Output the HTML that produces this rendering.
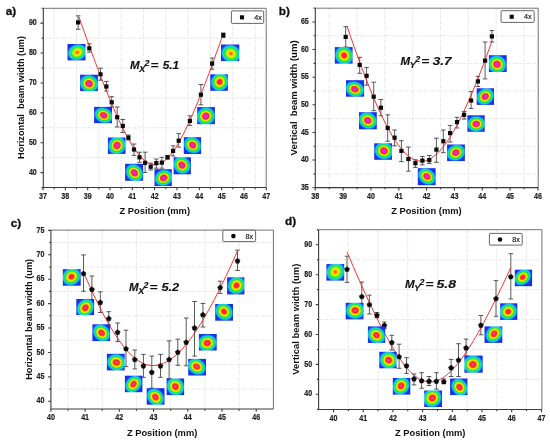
<!DOCTYPE html>
<html><head><meta charset="utf-8"><title>Beam width vs Z position</title>
<style>
html,body{margin:0;padding:0;background:#fff}
svg{display:block}
text{font-family:"Liberation Sans",Arial,sans-serif;fill:#1a1a1a}
.tk{font-size:8.9px;font-weight:bold;fill:#222;stroke:#222;stroke-width:0.2px}
.at{font-size:9.7px;font-weight:bold;fill:#111}
.pl{font-size:11.8px;font-weight:bold;fill:#111;stroke:#111;stroke-width:0.3px}
.lg{font-size:7.8px;fill:#111;stroke:#111;stroke-width:0.15px}
.m2{font-family:"Liberation Sans",Arial,sans-serif;font-style:italic;font-weight:bold;font-size:11.4px;fill:#111;stroke:#111;stroke-width:0.15px}
.sb{font-size:8.8px !important}
.sp{font-size:8.5px}
</style></head><body>
<svg width="550" height="443" viewBox="0 0 550 443">
<defs><radialGradient id="g1" gradientUnits="userSpaceOnUse" cx="0" cy="0" r="1" gradientTransform="translate(77.3 52.34) rotate(-18.55) scale(10.8 8.94)"><stop offset="0" stop-color="#f04030"/><stop offset="0.08" stop-color="#ff6010"/><stop offset="0.2" stop-color="#ffc000"/><stop offset="0.32" stop-color="#e8f000"/><stop offset="0.46" stop-color="#80f020"/><stop offset="0.6" stop-color="#20e050"/><stop offset="0.7" stop-color="#10e0b0"/><stop offset="0.77" stop-color="#10d0f0"/><stop offset="0.87" stop-color="#1a70f0"/><stop offset="0.96" stop-color="#1834ea"/><stop offset="1" stop-color="#1830e6"/></radialGradient>
<radialGradient id="g2" gradientUnits="userSpaceOnUse" cx="0" cy="0" r="1" gradientTransform="translate(89.11 83.61) rotate(23.81) scale(10.68 9.69)"><stop offset="0" stop-color="#dc30cc"/><stop offset="0.2" stop-color="#ea28b0"/><stop offset="0.3" stop-color="#ff2040"/><stop offset="0.36" stop-color="#ff8000"/><stop offset="0.42" stop-color="#f8e800"/><stop offset="0.5" stop-color="#a0f000"/><stop offset="0.6" stop-color="#20e040"/><stop offset="0.69" stop-color="#10e0a0"/><stop offset="0.76" stop-color="#10d0f0"/><stop offset="0.86" stop-color="#1a70f0"/><stop offset="0.96" stop-color="#1834ea"/><stop offset="1" stop-color="#1830e6"/></radialGradient>
<radialGradient id="g3" gradientUnits="userSpaceOnUse" cx="0" cy="0" r="1" gradientTransform="translate(103.68 115.35) rotate(23.81) scale(10.74 8.55)"><stop offset="0" stop-color="#dc30cc"/><stop offset="0.2" stop-color="#ea28b0"/><stop offset="0.3" stop-color="#ff2040"/><stop offset="0.36" stop-color="#ff8000"/><stop offset="0.42" stop-color="#f8e800"/><stop offset="0.5" stop-color="#a0f000"/><stop offset="0.6" stop-color="#20e040"/><stop offset="0.69" stop-color="#10e0a0"/><stop offset="0.76" stop-color="#10d0f0"/><stop offset="0.86" stop-color="#1a70f0"/><stop offset="0.96" stop-color="#1834ea"/><stop offset="1" stop-color="#1830e6"/></radialGradient>
<radialGradient id="g4" gradientUnits="userSpaceOnUse" cx="0" cy="0" r="1" gradientTransform="translate(117 145.45) rotate(-56.86) scale(10.56 9.82)"><stop offset="0" stop-color="#dc30cc"/><stop offset="0.2" stop-color="#ea28b0"/><stop offset="0.3" stop-color="#ff2040"/><stop offset="0.36" stop-color="#ff8000"/><stop offset="0.42" stop-color="#f8e800"/><stop offset="0.5" stop-color="#a0f000"/><stop offset="0.6" stop-color="#20e040"/><stop offset="0.69" stop-color="#10e0a0"/><stop offset="0.76" stop-color="#10d0f0"/><stop offset="0.86" stop-color="#1a70f0"/><stop offset="0.96" stop-color="#1834ea"/><stop offset="1" stop-color="#1830e6"/></radialGradient>
<radialGradient id="g5" gradientUnits="userSpaceOnUse" cx="0" cy="0" r="1" gradientTransform="translate(134.38 172.85) rotate(43.93) scale(10.8 8.99)"><stop offset="0" stop-color="#dc30cc"/><stop offset="0.2" stop-color="#ea28b0"/><stop offset="0.3" stop-color="#ff2040"/><stop offset="0.36" stop-color="#ff8000"/><stop offset="0.42" stop-color="#f8e800"/><stop offset="0.5" stop-color="#a0f000"/><stop offset="0.6" stop-color="#20e040"/><stop offset="0.69" stop-color="#10e0a0"/><stop offset="0.76" stop-color="#10d0f0"/><stop offset="0.86" stop-color="#1a70f0"/><stop offset="0.96" stop-color="#1834ea"/><stop offset="1" stop-color="#1830e6"/></radialGradient>
<radialGradient id="g6" gradientUnits="userSpaceOnUse" cx="0" cy="0" r="1" gradientTransform="translate(163.62 177.91) rotate(-23.92) scale(10.38 9.09)"><stop offset="0" stop-color="#dc30cc"/><stop offset="0.2" stop-color="#ea28b0"/><stop offset="0.3" stop-color="#ff2040"/><stop offset="0.36" stop-color="#ff8000"/><stop offset="0.42" stop-color="#f8e800"/><stop offset="0.5" stop-color="#a0f000"/><stop offset="0.6" stop-color="#20e040"/><stop offset="0.69" stop-color="#10e0a0"/><stop offset="0.76" stop-color="#10d0f0"/><stop offset="0.86" stop-color="#1a70f0"/><stop offset="0.96" stop-color="#1834ea"/><stop offset="1" stop-color="#1830e6"/></radialGradient>
<radialGradient id="g7" gradientUnits="userSpaceOnUse" cx="0" cy="0" r="1" gradientTransform="translate(181.92 165.14) rotate(47.82) scale(10.38 9.31)"><stop offset="0" stop-color="#dc30cc"/><stop offset="0.2" stop-color="#ea28b0"/><stop offset="0.3" stop-color="#ff2040"/><stop offset="0.36" stop-color="#ff8000"/><stop offset="0.42" stop-color="#f8e800"/><stop offset="0.5" stop-color="#a0f000"/><stop offset="0.6" stop-color="#20e040"/><stop offset="0.69" stop-color="#10e0a0"/><stop offset="0.76" stop-color="#10d0f0"/><stop offset="0.86" stop-color="#1a70f0"/><stop offset="0.96" stop-color="#1834ea"/><stop offset="1" stop-color="#1830e6"/></radialGradient>
<radialGradient id="g8" gradientUnits="userSpaceOnUse" cx="0" cy="0" r="1" gradientTransform="translate(192.56 145.12) rotate(37.53) scale(10.38 8.86)"><stop offset="0" stop-color="#dc30cc"/><stop offset="0.2" stop-color="#ea28b0"/><stop offset="0.3" stop-color="#ff2040"/><stop offset="0.36" stop-color="#ff8000"/><stop offset="0.42" stop-color="#f8e800"/><stop offset="0.5" stop-color="#a0f000"/><stop offset="0.6" stop-color="#20e040"/><stop offset="0.69" stop-color="#10e0a0"/><stop offset="0.76" stop-color="#10d0f0"/><stop offset="0.86" stop-color="#1a70f0"/><stop offset="0.96" stop-color="#1834ea"/><stop offset="1" stop-color="#1830e6"/></radialGradient>
<radialGradient id="g9" gradientUnits="userSpaceOnUse" cx="0" cy="0" r="1" gradientTransform="translate(205.78 116.18) rotate(-38.34) scale(10.62 10.06)"><stop offset="0" stop-color="#dc30cc"/><stop offset="0.2" stop-color="#ea28b0"/><stop offset="0.3" stop-color="#ff2040"/><stop offset="0.36" stop-color="#ff8000"/><stop offset="0.42" stop-color="#f8e800"/><stop offset="0.5" stop-color="#a0f000"/><stop offset="0.6" stop-color="#20e040"/><stop offset="0.69" stop-color="#10e0a0"/><stop offset="0.76" stop-color="#10d0f0"/><stop offset="0.86" stop-color="#1a70f0"/><stop offset="0.96" stop-color="#1834ea"/><stop offset="1" stop-color="#1830e6"/></radialGradient>
<radialGradient id="g10" gradientUnits="userSpaceOnUse" cx="0" cy="0" r="1" gradientTransform="translate(219.7 81.89) rotate(-58.41) scale(10.56 9.74)"><stop offset="0" stop-color="#f02890"/><stop offset="0.1" stop-color="#ff2050"/><stop offset="0.22" stop-color="#ff3020"/><stop offset="0.3" stop-color="#ff9000"/><stop offset="0.38" stop-color="#f8e800"/><stop offset="0.48" stop-color="#a0f000"/><stop offset="0.6" stop-color="#20e040"/><stop offset="0.69" stop-color="#10e0a0"/><stop offset="0.76" stop-color="#10d0f0"/><stop offset="0.86" stop-color="#1a70f0"/><stop offset="0.96" stop-color="#1834ea"/><stop offset="1" stop-color="#1830e6"/></radialGradient>
<radialGradient id="g11" gradientUnits="userSpaceOnUse" cx="0" cy="0" r="1" gradientTransform="translate(230.93 53.62) rotate(21.24) scale(10.98 9.72)"><stop offset="0" stop-color="#f04030"/><stop offset="0.08" stop-color="#ff6010"/><stop offset="0.2" stop-color="#ffc000"/><stop offset="0.32" stop-color="#e8f000"/><stop offset="0.46" stop-color="#80f020"/><stop offset="0.6" stop-color="#20e050"/><stop offset="0.7" stop-color="#10e0b0"/><stop offset="0.77" stop-color="#10d0f0"/><stop offset="0.87" stop-color="#1a70f0"/><stop offset="0.96" stop-color="#1834ea"/><stop offset="1" stop-color="#1830e6"/></radialGradient>
<radialGradient id="g12" gradientUnits="userSpaceOnUse" cx="0" cy="0" r="1" gradientTransform="translate(344.08 55.35) rotate(46.37) scale(10.68 10.09)"><stop offset="0" stop-color="#f02890"/><stop offset="0.1" stop-color="#ff2050"/><stop offset="0.22" stop-color="#ff3020"/><stop offset="0.3" stop-color="#ff9000"/><stop offset="0.38" stop-color="#f8e800"/><stop offset="0.48" stop-color="#a0f000"/><stop offset="0.6" stop-color="#20e040"/><stop offset="0.69" stop-color="#10e0a0"/><stop offset="0.76" stop-color="#10d0f0"/><stop offset="0.86" stop-color="#1a70f0"/><stop offset="0.96" stop-color="#1834ea"/><stop offset="1" stop-color="#1830e6"/></radialGradient>
<radialGradient id="g13" gradientUnits="userSpaceOnUse" cx="0" cy="0" r="1" gradientTransform="translate(354.8 89.19) rotate(19.87) scale(10.86 8.62)"><stop offset="0" stop-color="#dc30cc"/><stop offset="0.2" stop-color="#ea28b0"/><stop offset="0.3" stop-color="#ff2040"/><stop offset="0.36" stop-color="#ff8000"/><stop offset="0.42" stop-color="#f8e800"/><stop offset="0.5" stop-color="#a0f000"/><stop offset="0.6" stop-color="#20e040"/><stop offset="0.69" stop-color="#10e0a0"/><stop offset="0.76" stop-color="#10d0f0"/><stop offset="0.86" stop-color="#1a70f0"/><stop offset="0.96" stop-color="#1834ea"/><stop offset="1" stop-color="#1830e6"/></radialGradient>
<radialGradient id="g14" gradientUnits="userSpaceOnUse" cx="0" cy="0" r="1" gradientTransform="translate(367.75 120.5) rotate(28.81) scale(10.68 9.32)"><stop offset="0" stop-color="#dc30cc"/><stop offset="0.2" stop-color="#ea28b0"/><stop offset="0.3" stop-color="#ff2040"/><stop offset="0.36" stop-color="#ff8000"/><stop offset="0.42" stop-color="#f8e800"/><stop offset="0.5" stop-color="#a0f000"/><stop offset="0.6" stop-color="#20e040"/><stop offset="0.69" stop-color="#10e0a0"/><stop offset="0.76" stop-color="#10d0f0"/><stop offset="0.86" stop-color="#1a70f0"/><stop offset="0.96" stop-color="#1834ea"/><stop offset="1" stop-color="#1830e6"/></radialGradient>
<radialGradient id="g15" gradientUnits="userSpaceOnUse" cx="0" cy="0" r="1" gradientTransform="translate(383.93 150.84) rotate(14.71) scale(10.68 9.76)"><stop offset="0" stop-color="#dc30cc"/><stop offset="0.2" stop-color="#ea28b0"/><stop offset="0.3" stop-color="#ff2040"/><stop offset="0.36" stop-color="#ff8000"/><stop offset="0.42" stop-color="#f8e800"/><stop offset="0.5" stop-color="#a0f000"/><stop offset="0.6" stop-color="#20e040"/><stop offset="0.69" stop-color="#10e0a0"/><stop offset="0.76" stop-color="#10d0f0"/><stop offset="0.86" stop-color="#1a70f0"/><stop offset="0.96" stop-color="#1834ea"/><stop offset="1" stop-color="#1830e6"/></radialGradient>
<radialGradient id="g16" gradientUnits="userSpaceOnUse" cx="0" cy="0" r="1" gradientTransform="translate(426.88 176.43) rotate(39.46) scale(10.68 8.49)"><stop offset="0" stop-color="#dc30cc"/><stop offset="0.2" stop-color="#ea28b0"/><stop offset="0.3" stop-color="#ff2040"/><stop offset="0.36" stop-color="#ff8000"/><stop offset="0.42" stop-color="#f8e800"/><stop offset="0.5" stop-color="#a0f000"/><stop offset="0.6" stop-color="#20e040"/><stop offset="0.69" stop-color="#10e0a0"/><stop offset="0.76" stop-color="#10d0f0"/><stop offset="0.86" stop-color="#1a70f0"/><stop offset="0.96" stop-color="#1834ea"/><stop offset="1" stop-color="#1830e6"/></radialGradient>
<radialGradient id="g17" gradientUnits="userSpaceOnUse" cx="0" cy="0" r="1" gradientTransform="translate(455.86 152.66) rotate(-24.06) scale(10.68 8.92)"><stop offset="0" stop-color="#dc30cc"/><stop offset="0.2" stop-color="#ea28b0"/><stop offset="0.3" stop-color="#ff2040"/><stop offset="0.36" stop-color="#ff8000"/><stop offset="0.42" stop-color="#f8e800"/><stop offset="0.5" stop-color="#a0f000"/><stop offset="0.6" stop-color="#20e040"/><stop offset="0.69" stop-color="#10e0a0"/><stop offset="0.76" stop-color="#10d0f0"/><stop offset="0.86" stop-color="#1a70f0"/><stop offset="0.96" stop-color="#1834ea"/><stop offset="1" stop-color="#1830e6"/></radialGradient>
<radialGradient id="g18" gradientUnits="userSpaceOnUse" cx="0" cy="0" r="1" gradientTransform="translate(476.23 123.94) rotate(-3.06) scale(10.38 8.77)"><stop offset="0" stop-color="#dc30cc"/><stop offset="0.2" stop-color="#ea28b0"/><stop offset="0.3" stop-color="#ff2040"/><stop offset="0.36" stop-color="#ff8000"/><stop offset="0.42" stop-color="#f8e800"/><stop offset="0.5" stop-color="#a0f000"/><stop offset="0.6" stop-color="#20e040"/><stop offset="0.69" stop-color="#10e0a0"/><stop offset="0.76" stop-color="#10d0f0"/><stop offset="0.86" stop-color="#1a70f0"/><stop offset="0.96" stop-color="#1834ea"/><stop offset="1" stop-color="#1830e6"/></radialGradient>
<radialGradient id="g19" gradientUnits="userSpaceOnUse" cx="0" cy="0" r="1" gradientTransform="translate(485.25 96.51) rotate(-37.07) scale(10.38 8.9)"><stop offset="0" stop-color="#dc30cc"/><stop offset="0.2" stop-color="#ea28b0"/><stop offset="0.3" stop-color="#ff2040"/><stop offset="0.36" stop-color="#ff8000"/><stop offset="0.42" stop-color="#f8e800"/><stop offset="0.5" stop-color="#a0f000"/><stop offset="0.6" stop-color="#20e040"/><stop offset="0.69" stop-color="#10e0a0"/><stop offset="0.76" stop-color="#10d0f0"/><stop offset="0.86" stop-color="#1a70f0"/><stop offset="0.96" stop-color="#1834ea"/><stop offset="1" stop-color="#1830e6"/></radialGradient>
<radialGradient id="g20" gradientUnits="userSpaceOnUse" cx="0" cy="0" r="1" gradientTransform="translate(497 64.29) rotate(21.51) scale(10.68 10.01)"><stop offset="0" stop-color="#dc30cc"/><stop offset="0.2" stop-color="#ea28b0"/><stop offset="0.3" stop-color="#ff2040"/><stop offset="0.36" stop-color="#ff8000"/><stop offset="0.42" stop-color="#f8e800"/><stop offset="0.5" stop-color="#a0f000"/><stop offset="0.6" stop-color="#20e040"/><stop offset="0.69" stop-color="#10e0a0"/><stop offset="0.76" stop-color="#10d0f0"/><stop offset="0.86" stop-color="#1a70f0"/><stop offset="0.96" stop-color="#1834ea"/><stop offset="1" stop-color="#1830e6"/></radialGradient>
<radialGradient id="g21" gradientUnits="userSpaceOnUse" cx="0" cy="0" r="1" gradientTransform="translate(71.42 276.77) rotate(-27.38) scale(10.74 9.52)"><stop offset="0" stop-color="#f02890"/><stop offset="0.1" stop-color="#ff2050"/><stop offset="0.22" stop-color="#ff3020"/><stop offset="0.3" stop-color="#ff9000"/><stop offset="0.38" stop-color="#f8e800"/><stop offset="0.48" stop-color="#a0f000"/><stop offset="0.6" stop-color="#20e040"/><stop offset="0.69" stop-color="#10e0a0"/><stop offset="0.76" stop-color="#10d0f0"/><stop offset="0.86" stop-color="#1a70f0"/><stop offset="0.96" stop-color="#1834ea"/><stop offset="1" stop-color="#1830e6"/></radialGradient>
<radialGradient id="g22" gradientUnits="userSpaceOnUse" cx="0" cy="0" r="1" gradientTransform="translate(85.35 307.8) rotate(-51.25) scale(10.68 8.97)"><stop offset="0" stop-color="#ff88b8"/><stop offset="0.08" stop-color="#ff3a78"/><stop offset="0.2" stop-color="#ff2038"/><stop offset="0.3" stop-color="#ff4a10"/><stop offset="0.36" stop-color="#ffa000"/><stop offset="0.43" stop-color="#f0f000"/><stop offset="0.52" stop-color="#90f010"/><stop offset="0.62" stop-color="#20e050"/><stop offset="0.7" stop-color="#10e0b0"/><stop offset="0.77" stop-color="#10d0f0"/><stop offset="0.87" stop-color="#1a70f0"/><stop offset="0.96" stop-color="#1834ea"/><stop offset="1" stop-color="#1830e6"/></radialGradient>
<radialGradient id="g23" gradientUnits="userSpaceOnUse" cx="0" cy="0" r="1" gradientTransform="translate(101.59 332.89) rotate(43.62) scale(10.62 8.77)"><stop offset="0" stop-color="#ff88b8"/><stop offset="0.08" stop-color="#ff3a78"/><stop offset="0.2" stop-color="#ff2038"/><stop offset="0.3" stop-color="#ff4a10"/><stop offset="0.36" stop-color="#ffa000"/><stop offset="0.43" stop-color="#f0f000"/><stop offset="0.52" stop-color="#90f010"/><stop offset="0.62" stop-color="#20e050"/><stop offset="0.7" stop-color="#10e0b0"/><stop offset="0.77" stop-color="#10d0f0"/><stop offset="0.87" stop-color="#1a70f0"/><stop offset="0.96" stop-color="#1834ea"/><stop offset="1" stop-color="#1830e6"/></radialGradient>
<radialGradient id="g24" gradientUnits="userSpaceOnUse" cx="0" cy="0" r="1" gradientTransform="translate(116.4 362.43) rotate(14.36) scale(10.68 9.41)"><stop offset="0" stop-color="#ff88b8"/><stop offset="0.08" stop-color="#ff3a78"/><stop offset="0.2" stop-color="#ff2038"/><stop offset="0.3" stop-color="#ff4a10"/><stop offset="0.36" stop-color="#ffa000"/><stop offset="0.43" stop-color="#f0f000"/><stop offset="0.52" stop-color="#90f010"/><stop offset="0.62" stop-color="#20e050"/><stop offset="0.7" stop-color="#10e0b0"/><stop offset="0.77" stop-color="#10d0f0"/><stop offset="0.87" stop-color="#1a70f0"/><stop offset="0.96" stop-color="#1834ea"/><stop offset="1" stop-color="#1830e6"/></radialGradient>
<radialGradient id="g25" gradientUnits="userSpaceOnUse" cx="0" cy="0" r="1" gradientTransform="translate(133.47 384.13) rotate(-48.3) scale(10.5 8.37)"><stop offset="0" stop-color="#ff88b8"/><stop offset="0.08" stop-color="#ff3a78"/><stop offset="0.2" stop-color="#ff2038"/><stop offset="0.3" stop-color="#ff4a10"/><stop offset="0.36" stop-color="#ffa000"/><stop offset="0.43" stop-color="#f0f000"/><stop offset="0.52" stop-color="#90f010"/><stop offset="0.62" stop-color="#20e050"/><stop offset="0.7" stop-color="#10e0b0"/><stop offset="0.77" stop-color="#10d0f0"/><stop offset="0.87" stop-color="#1a70f0"/><stop offset="0.96" stop-color="#1834ea"/><stop offset="1" stop-color="#1830e6"/></radialGradient>
<radialGradient id="g26" gradientUnits="userSpaceOnUse" cx="0" cy="0" r="1" gradientTransform="translate(155.46 397.13) rotate(45.38) scale(10.68 8.67)"><stop offset="0" stop-color="#ff88b8"/><stop offset="0.08" stop-color="#ff3a78"/><stop offset="0.2" stop-color="#ff2038"/><stop offset="0.3" stop-color="#ff4a10"/><stop offset="0.36" stop-color="#ffa000"/><stop offset="0.43" stop-color="#f0f000"/><stop offset="0.52" stop-color="#90f010"/><stop offset="0.62" stop-color="#20e050"/><stop offset="0.7" stop-color="#10e0b0"/><stop offset="0.77" stop-color="#10d0f0"/><stop offset="0.87" stop-color="#1a70f0"/><stop offset="0.96" stop-color="#1834ea"/><stop offset="1" stop-color="#1830e6"/></radialGradient>
<radialGradient id="g27" gradientUnits="userSpaceOnUse" cx="0" cy="0" r="1" gradientTransform="translate(175.41 386.56) rotate(52.66) scale(10.5 9.59)"><stop offset="0" stop-color="#ff88b8"/><stop offset="0.08" stop-color="#ff3a78"/><stop offset="0.2" stop-color="#ff2038"/><stop offset="0.3" stop-color="#ff4a10"/><stop offset="0.36" stop-color="#ffa000"/><stop offset="0.43" stop-color="#f0f000"/><stop offset="0.52" stop-color="#90f010"/><stop offset="0.62" stop-color="#20e050"/><stop offset="0.7" stop-color="#10e0b0"/><stop offset="0.77" stop-color="#10d0f0"/><stop offset="0.87" stop-color="#1a70f0"/><stop offset="0.96" stop-color="#1834ea"/><stop offset="1" stop-color="#1830e6"/></radialGradient>
<radialGradient id="g28" gradientUnits="userSpaceOnUse" cx="0" cy="0" r="1" gradientTransform="translate(196.66 366.57) rotate(29.9) scale(10.68 8.63)"><stop offset="0" stop-color="#ff88b8"/><stop offset="0.08" stop-color="#ff3a78"/><stop offset="0.2" stop-color="#ff2038"/><stop offset="0.3" stop-color="#ff4a10"/><stop offset="0.36" stop-color="#ffa000"/><stop offset="0.43" stop-color="#f0f000"/><stop offset="0.52" stop-color="#90f010"/><stop offset="0.62" stop-color="#20e050"/><stop offset="0.7" stop-color="#10e0b0"/><stop offset="0.77" stop-color="#10d0f0"/><stop offset="0.87" stop-color="#1a70f0"/><stop offset="0.96" stop-color="#1834ea"/><stop offset="1" stop-color="#1830e6"/></radialGradient>
<radialGradient id="g29" gradientUnits="userSpaceOnUse" cx="0" cy="0" r="1" gradientTransform="translate(207.24 343.06) rotate(-10.3) scale(10.68 9.29)"><stop offset="0" stop-color="#ff88b8"/><stop offset="0.08" stop-color="#ff3a78"/><stop offset="0.2" stop-color="#ff2038"/><stop offset="0.3" stop-color="#ff4a10"/><stop offset="0.36" stop-color="#ffa000"/><stop offset="0.43" stop-color="#f0f000"/><stop offset="0.52" stop-color="#90f010"/><stop offset="0.62" stop-color="#20e050"/><stop offset="0.7" stop-color="#10e0b0"/><stop offset="0.77" stop-color="#10d0f0"/><stop offset="0.87" stop-color="#1a70f0"/><stop offset="0.96" stop-color="#1834ea"/><stop offset="1" stop-color="#1830e6"/></radialGradient>
<radialGradient id="g30" gradientUnits="userSpaceOnUse" cx="0" cy="0" r="1" gradientTransform="translate(223.98 311.61) rotate(45.83) scale(10.68 9.21)"><stop offset="0" stop-color="#f02890"/><stop offset="0.1" stop-color="#ff2050"/><stop offset="0.22" stop-color="#ff3020"/><stop offset="0.3" stop-color="#ff9000"/><stop offset="0.38" stop-color="#f8e800"/><stop offset="0.48" stop-color="#a0f000"/><stop offset="0.6" stop-color="#20e040"/><stop offset="0.69" stop-color="#10e0a0"/><stop offset="0.76" stop-color="#10d0f0"/><stop offset="0.86" stop-color="#1a70f0"/><stop offset="0.96" stop-color="#1834ea"/><stop offset="1" stop-color="#1830e6"/></radialGradient>
<radialGradient id="g31" gradientUnits="userSpaceOnUse" cx="0" cy="0" r="1" gradientTransform="translate(236.53 285.44) rotate(-46.67) scale(10.38 9.83)"><stop offset="0" stop-color="#f02890"/><stop offset="0.1" stop-color="#ff2050"/><stop offset="0.22" stop-color="#ff3020"/><stop offset="0.3" stop-color="#ff9000"/><stop offset="0.38" stop-color="#f8e800"/><stop offset="0.48" stop-color="#a0f000"/><stop offset="0.6" stop-color="#20e040"/><stop offset="0.69" stop-color="#10e0a0"/><stop offset="0.76" stop-color="#10d0f0"/><stop offset="0.86" stop-color="#1a70f0"/><stop offset="0.96" stop-color="#1834ea"/><stop offset="1" stop-color="#1830e6"/></radialGradient>
<radialGradient id="g32" gradientUnits="userSpaceOnUse" cx="0" cy="0" r="1" gradientTransform="translate(335.38 271.81) rotate(-38.37) scale(10.68 9.88)"><stop offset="0" stop-color="#f04030"/><stop offset="0.08" stop-color="#ff6010"/><stop offset="0.2" stop-color="#ffc000"/><stop offset="0.32" stop-color="#e8f000"/><stop offset="0.46" stop-color="#80f020"/><stop offset="0.6" stop-color="#20e050"/><stop offset="0.7" stop-color="#10e0b0"/><stop offset="0.77" stop-color="#10d0f0"/><stop offset="0.87" stop-color="#1a70f0"/><stop offset="0.96" stop-color="#1834ea"/><stop offset="1" stop-color="#1830e6"/></radialGradient>
<radialGradient id="g33" gradientUnits="userSpaceOnUse" cx="0" cy="0" r="1" gradientTransform="translate(355.15 310.42) rotate(2.82) scale(10.68 9.61)"><stop offset="0" stop-color="#ff88b8"/><stop offset="0.08" stop-color="#ff3a78"/><stop offset="0.2" stop-color="#ff2038"/><stop offset="0.3" stop-color="#ff4a10"/><stop offset="0.36" stop-color="#ffa000"/><stop offset="0.43" stop-color="#f0f000"/><stop offset="0.52" stop-color="#90f010"/><stop offset="0.62" stop-color="#20e050"/><stop offset="0.7" stop-color="#10e0b0"/><stop offset="0.77" stop-color="#10d0f0"/><stop offset="0.87" stop-color="#1a70f0"/><stop offset="0.96" stop-color="#1834ea"/><stop offset="1" stop-color="#1830e6"/></radialGradient>
<radialGradient id="g34" gradientUnits="userSpaceOnUse" cx="0" cy="0" r="1" gradientTransform="translate(376.47 335.21) rotate(31.32) scale(10.38 8.96)"><stop offset="0" stop-color="#ff88b8"/><stop offset="0.08" stop-color="#ff3a78"/><stop offset="0.2" stop-color="#ff2038"/><stop offset="0.3" stop-color="#ff4a10"/><stop offset="0.36" stop-color="#ffa000"/><stop offset="0.43" stop-color="#f0f000"/><stop offset="0.52" stop-color="#90f010"/><stop offset="0.62" stop-color="#20e050"/><stop offset="0.7" stop-color="#10e0b0"/><stop offset="0.77" stop-color="#10d0f0"/><stop offset="0.87" stop-color="#1a70f0"/><stop offset="0.96" stop-color="#1834ea"/><stop offset="1" stop-color="#1830e6"/></radialGradient>
<radialGradient id="g35" gradientUnits="userSpaceOnUse" cx="0" cy="0" r="1" gradientTransform="translate(388.68 360.18) rotate(29.43) scale(10.38 9.82)"><stop offset="0" stop-color="#ff88b8"/><stop offset="0.08" stop-color="#ff3a78"/><stop offset="0.2" stop-color="#ff2038"/><stop offset="0.3" stop-color="#ff4a10"/><stop offset="0.36" stop-color="#ffa000"/><stop offset="0.43" stop-color="#f0f000"/><stop offset="0.52" stop-color="#90f010"/><stop offset="0.62" stop-color="#20e050"/><stop offset="0.7" stop-color="#10e0b0"/><stop offset="0.77" stop-color="#10d0f0"/><stop offset="0.87" stop-color="#1a70f0"/><stop offset="0.96" stop-color="#1834ea"/><stop offset="1" stop-color="#1830e6"/></radialGradient>
<radialGradient id="g36" gradientUnits="userSpaceOnUse" cx="0" cy="0" r="1" gradientTransform="translate(401.03 385.86) rotate(-56.99) scale(10.5 9.15)"><stop offset="0" stop-color="#ff88b8"/><stop offset="0.08" stop-color="#ff3a78"/><stop offset="0.2" stop-color="#ff2038"/><stop offset="0.3" stop-color="#ff4a10"/><stop offset="0.36" stop-color="#ffa000"/><stop offset="0.43" stop-color="#f0f000"/><stop offset="0.52" stop-color="#90f010"/><stop offset="0.62" stop-color="#20e050"/><stop offset="0.7" stop-color="#10e0b0"/><stop offset="0.77" stop-color="#10d0f0"/><stop offset="0.87" stop-color="#1a70f0"/><stop offset="0.96" stop-color="#1834ea"/><stop offset="1" stop-color="#1830e6"/></radialGradient>
<radialGradient id="g37" gradientUnits="userSpaceOnUse" cx="0" cy="0" r="1" gradientTransform="translate(432.29 397.97) rotate(-43.61) scale(10.68 10.12)"><stop offset="0" stop-color="#ff88b8"/><stop offset="0.08" stop-color="#ff3a78"/><stop offset="0.2" stop-color="#ff2038"/><stop offset="0.3" stop-color="#ff4a10"/><stop offset="0.36" stop-color="#ffa000"/><stop offset="0.43" stop-color="#f0f000"/><stop offset="0.52" stop-color="#90f010"/><stop offset="0.62" stop-color="#20e050"/><stop offset="0.7" stop-color="#10e0b0"/><stop offset="0.77" stop-color="#10d0f0"/><stop offset="0.87" stop-color="#1a70f0"/><stop offset="0.96" stop-color="#1834ea"/><stop offset="1" stop-color="#1830e6"/></radialGradient>
<radialGradient id="g38" gradientUnits="userSpaceOnUse" cx="0" cy="0" r="1" gradientTransform="translate(459.51 387.22) rotate(53.95) scale(10.38 8.53)"><stop offset="0" stop-color="#ff88b8"/><stop offset="0.08" stop-color="#ff3a78"/><stop offset="0.2" stop-color="#ff2038"/><stop offset="0.3" stop-color="#ff4a10"/><stop offset="0.36" stop-color="#ffa000"/><stop offset="0.43" stop-color="#f0f000"/><stop offset="0.52" stop-color="#90f010"/><stop offset="0.62" stop-color="#20e050"/><stop offset="0.7" stop-color="#10e0b0"/><stop offset="0.77" stop-color="#10d0f0"/><stop offset="0.87" stop-color="#1a70f0"/><stop offset="0.96" stop-color="#1834ea"/><stop offset="1" stop-color="#1830e6"/></radialGradient>
<radialGradient id="g39" gradientUnits="userSpaceOnUse" cx="0" cy="0" r="1" gradientTransform="translate(472.89 364.49) rotate(-3.53) scale(10.98 10.16)"><stop offset="0" stop-color="#ff88b8"/><stop offset="0.08" stop-color="#ff3a78"/><stop offset="0.2" stop-color="#ff2038"/><stop offset="0.3" stop-color="#ff4a10"/><stop offset="0.36" stop-color="#ffa000"/><stop offset="0.43" stop-color="#f0f000"/><stop offset="0.52" stop-color="#90f010"/><stop offset="0.62" stop-color="#20e050"/><stop offset="0.7" stop-color="#10e0b0"/><stop offset="0.77" stop-color="#10d0f0"/><stop offset="0.87" stop-color="#1a70f0"/><stop offset="0.96" stop-color="#1834ea"/><stop offset="1" stop-color="#1830e6"/></radialGradient>
<radialGradient id="g40" gradientUnits="userSpaceOnUse" cx="0" cy="0" r="1" gradientTransform="translate(494.15 333.83) rotate(-47.86) scale(10.68 8.75)"><stop offset="0" stop-color="#ff88b8"/><stop offset="0.08" stop-color="#ff3a78"/><stop offset="0.2" stop-color="#ff2038"/><stop offset="0.3" stop-color="#ff4a10"/><stop offset="0.36" stop-color="#ffa000"/><stop offset="0.43" stop-color="#f0f000"/><stop offset="0.52" stop-color="#90f010"/><stop offset="0.62" stop-color="#20e050"/><stop offset="0.7" stop-color="#10e0b0"/><stop offset="0.77" stop-color="#10d0f0"/><stop offset="0.87" stop-color="#1a70f0"/><stop offset="0.96" stop-color="#1834ea"/><stop offset="1" stop-color="#1830e6"/></radialGradient>
<radialGradient id="g41" gradientUnits="userSpaceOnUse" cx="0" cy="0" r="1" gradientTransform="translate(508.17 311.62) rotate(-24.57) scale(10.26 9.22)"><stop offset="0" stop-color="#f02890"/><stop offset="0.1" stop-color="#ff2050"/><stop offset="0.22" stop-color="#ff3020"/><stop offset="0.3" stop-color="#ff9000"/><stop offset="0.38" stop-color="#f8e800"/><stop offset="0.48" stop-color="#a0f000"/><stop offset="0.6" stop-color="#20e040"/><stop offset="0.69" stop-color="#10e0a0"/><stop offset="0.76" stop-color="#10d0f0"/><stop offset="0.86" stop-color="#1a70f0"/><stop offset="0.96" stop-color="#1834ea"/><stop offset="1" stop-color="#1830e6"/></radialGradient>
<radialGradient id="g42" gradientUnits="userSpaceOnUse" cx="0" cy="0" r="1" gradientTransform="translate(522.68 277.25) rotate(-40.96) scale(10.38 8.16)"><stop offset="0" stop-color="#f02890"/><stop offset="0.1" stop-color="#ff2050"/><stop offset="0.22" stop-color="#ff3020"/><stop offset="0.3" stop-color="#ff9000"/><stop offset="0.38" stop-color="#f8e800"/><stop offset="0.48" stop-color="#a0f000"/><stop offset="0.6" stop-color="#20e040"/><stop offset="0.69" stop-color="#10e0a0"/><stop offset="0.76" stop-color="#10d0f0"/><stop offset="0.86" stop-color="#1a70f0"/><stop offset="0.96" stop-color="#1834ea"/><stop offset="1" stop-color="#1830e6"/></radialGradient></defs>
<rect width="550" height="443" fill="#fff"/>
<g>
<path d="M54.16 8.3V187.5M76.5 8.3V187.5M98.82 8.3V187.5M121.16 8.3V187.5M143.48 8.3V187.5M165.81 8.3V187.5M188.14 8.3V187.5M210.47 8.3V187.5M232.8 8.3V187.5M255.13 8.3V187.5M43.3 157.7H266.2M43.3 127.8H266.2M43.3 97.9H266.2M43.3 68H266.2M43.3 38.1H266.2" stroke="#dadada" stroke-width="0.7" stroke-dasharray="3 1.2 1 1.2" fill="none"/>
<path d="M43.3 8.3H266.2V187.5" stroke="#747474" stroke-width="1" fill="none"/>
<path d="M43.3 8.3V187.5H266.2M43 187.5v2.8M54.16 187.5v1.7M65.33 187.5v2.8M76.5 187.5v1.7M87.66 187.5v2.8M98.82 187.5v1.7M109.99 187.5v2.8M121.16 187.5v1.7M132.32 187.5v2.8M143.48 187.5v1.7M154.65 187.5v2.8M165.81 187.5v1.7M176.98 187.5v2.8M188.14 187.5v1.7M199.31 187.5v2.8M210.47 187.5v1.7M221.64 187.5v2.8M232.8 187.5v1.7M243.97 187.5v2.8M255.13 187.5v1.7M266.3 187.5v2.8M43.3 187.6h-1.7M43.3 172.65h-2.8M43.3 157.7h-1.7M43.3 142.75h-2.8M43.3 127.8h-1.7M43.3 112.85h-2.8M43.3 97.9h-1.7M43.3 82.95h-2.8M43.3 68h-1.7M43.3 53.05h-2.8M43.3 38.1h-1.7M43.3 23.15h-2.8M43.3 8.2h-1.7" stroke="#3a3a3a" stroke-width="1.1" fill="none"/>
<text x="43" y="198.9" text-anchor="middle" class="tk" transform="translate(43 0) scale(0.8 1) translate(-43 0)">37</text>
<text x="65.33" y="198.9" text-anchor="middle" class="tk" transform="translate(65.33 0) scale(0.8 1) translate(-65.33 0)">38</text>
<text x="87.66" y="198.9" text-anchor="middle" class="tk" transform="translate(87.66 0) scale(0.8 1) translate(-87.66 0)">39</text>
<text x="109.99" y="198.9" text-anchor="middle" class="tk" transform="translate(109.99 0) scale(0.8 1) translate(-109.99 0)">40</text>
<text x="132.32" y="198.9" text-anchor="middle" class="tk" transform="translate(132.32 0) scale(0.8 1) translate(-132.32 0)">41</text>
<text x="154.65" y="198.9" text-anchor="middle" class="tk" transform="translate(154.65 0) scale(0.8 1) translate(-154.65 0)">42</text>
<text x="176.98" y="198.9" text-anchor="middle" class="tk" transform="translate(176.98 0) scale(0.8 1) translate(-176.98 0)">43</text>
<text x="199.31" y="198.9" text-anchor="middle" class="tk" transform="translate(199.31 0) scale(0.8 1) translate(-199.31 0)">44</text>
<text x="221.64" y="198.9" text-anchor="middle" class="tk" transform="translate(221.64 0) scale(0.8 1) translate(-221.64 0)">45</text>
<text x="243.97" y="198.9" text-anchor="middle" class="tk" transform="translate(243.97 0) scale(0.8 1) translate(-243.97 0)">46</text>
<text x="266.3" y="198.9" text-anchor="middle" class="tk" transform="translate(266.3 0) scale(0.8 1) translate(-266.3 0)">47</text>
<text x="36.8" y="174.85" text-anchor="end" class="tk" transform="translate(36.8 0) scale(0.8 1) translate(-36.8 0)">40</text>
<text x="36.8" y="144.95" text-anchor="end" class="tk" transform="translate(36.8 0) scale(0.8 1) translate(-36.8 0)">50</text>
<text x="36.8" y="115.05" text-anchor="end" class="tk" transform="translate(36.8 0) scale(0.8 1) translate(-36.8 0)">60</text>
<text x="36.8" y="85.15" text-anchor="end" class="tk" transform="translate(36.8 0) scale(0.8 1) translate(-36.8 0)">70</text>
<text x="36.8" y="55.25" text-anchor="end" class="tk" transform="translate(36.8 0) scale(0.8 1) translate(-36.8 0)">80</text>
<text x="36.8" y="25.35" text-anchor="end" class="tk" transform="translate(36.8 0) scale(0.8 1) translate(-36.8 0)">90</text>
<text x="119.6" y="214.4" textLength="70.4" lengthAdjust="spacingAndGlyphs" class="at">Z Position (mm)</text>
<text x="-61.5" y="0" textLength="123" lengthAdjust="spacingAndGlyphs" class="at" transform="translate(24 97.5) rotate(-90)" style="white-space:pre">Horizontal  beam width (um)</text>
<text x="5.7" y="14.6" class="pl">a)</text>
<path d="M78.1 15.8V29.3M75.8 15.8h4.6M75.8 29.3h4.6M89.3 43.8V52.2M87 43.8h4.6M87 52.2h4.6M100.5 68.2V80.2M98.2 68.2h4.6M98.2 80.2h4.6M106.4 81.4V91M104.1 81.4h4.6M104.1 91h4.6M111.7 96.7V107M109.4 96.7h4.6M109.4 107h4.6M117.2 107V127M114.9 107h4.6M114.9 127h4.6M122.8 119.5V132.5M120.5 119.5h4.6M120.5 132.5h4.6M128.4 135V140M126.1 135h4.6M126.1 140h4.6M134 144V155.4M131.7 144h4.6M131.7 155.4h4.6M139.5 152.2V162.3M137.2 152.2h4.6M137.2 162.3h4.6M145.1 152.2V172.5M142.8 152.2h4.6M142.8 172.5h4.6M150.7 163.1V170M148.4 163.1h4.6M148.4 170h4.6M156.3 159V168.2M154 159h4.6M154 168.2h4.6M161.9 157.3V168.2M159.6 157.3h4.6M159.6 168.2h4.6M167.5 155.5V159M165.2 155.5h4.6M165.2 159h4.6M173.1 145.8V156M170.8 145.8h4.6M170.8 156h4.6M178.7 133.6V147.1M176.4 133.6h4.6M176.4 147.1h4.6M189.9 115.8V125.4M187.6 115.8h4.6M187.6 125.4h4.6M200.9 84.5V104.8M198.6 84.5h4.6M198.6 104.8h4.6M212.1 58V69.2M209.8 58h4.6M209.8 69.2h4.6M223.3 33V37.5M221 33h4.6M221 37.5h4.6" stroke="#2c2c2c" stroke-width="0.78" fill="none"/>
<path d="M78.9 16.84L80.73 22.04L82.56 27.21L84.39 32.34L86.22 37.45L88.05 42.52L89.88 47.56L91.71 52.55L93.54 57.51L95.37 62.42L97.2 67.29L99.03 72.11L100.86 76.87L102.69 81.58L104.53 86.23L106.36 90.81L108.19 95.33L110.02 99.77L111.85 104.13L113.68 108.41L115.51 112.6L117.34 116.69L119.17 120.68L121 124.55L122.83 128.31L124.66 131.94L126.49 135.43L128.32 138.78L130.15 141.97L131.98 145L133.81 147.85L135.64 150.51L137.47 152.98L139.3 155.24L141.13 157.28L142.96 159.09L144.79 160.67L146.62 162L148.45 163.07L150.28 163.88L152.12 164.43L153.95 164.71L155.78 164.72L157.61 164.44L159.44 163.89L161.27 163.05L163.1 161.94L164.93 160.57L166.76 158.93L168.59 157.05L170.42 154.93L172.25 152.58L174.08 150.01L175.91 147.24L177.74 144.27L179.57 141.13L181.4 137.81L183.23 134.33L185.06 130.7L186.89 126.94L188.72 123.04L190.55 119.02L192.38 114.88L194.21 110.64L196.04 106.31L197.87 101.88L199.71 97.36L201.54 92.77L203.37 88.1L205.2 83.36L207.03 78.55L208.86 73.69L210.69 68.77L212.52 63.8L214.35 58.77L216.18 53.7L218.01 48.59L219.84 43.44L221.67 38.25L223.5 33.02" stroke="#f42020" stroke-width="0.92" fill="none"/>
<g fill="#0a0a0a"><rect x="76" y="20.3" width="4.2" height="4.2"/><rect x="87.2" y="46.2" width="4.2" height="4.2"/><rect x="98.4" y="72.2" width="4.2" height="4.2"/><rect x="104.3" y="84.4" width="4.2" height="4.2"/><rect x="109.6" y="100.2" width="4.2" height="4.2"/><rect x="115.1" y="115.1" width="4.2" height="4.2"/><rect x="120.7" y="123.9" width="4.2" height="4.2"/><rect x="126.3" y="135.6" width="4.2" height="4.2"/><rect x="131.9" y="147.4" width="4.2" height="4.2"/><rect x="137.4" y="155.2" width="4.2" height="4.2"/><rect x="143" y="160.7" width="4.2" height="4.2"/><rect x="148.6" y="164.6" width="4.2" height="4.2"/><rect x="154.2" y="161" width="4.2" height="4.2"/><rect x="159.8" y="160.5" width="4.2" height="4.2"/><rect x="165.4" y="155.2" width="4.2" height="4.2"/><rect x="171" y="148.8" width="4.2" height="4.2"/><rect x="176.6" y="138.6" width="4.2" height="4.2"/><rect x="187.8" y="118.8" width="4.2" height="4.2"/><rect x="198.8" y="92.6" width="4.2" height="4.2"/><rect x="210" y="61.5" width="4.2" height="4.2"/><rect x="221.2" y="33" width="4.2" height="4.2"/></g>
<rect x="67.5" y="44" width="18" height="16.4" fill="url(#g1)"/>
<rect x="80.1" y="74.7" width="17.8" height="16.4" fill="url(#g2)"/>
<rect x="94.1" y="106.9" width="17.9" height="16.3" fill="url(#g3)"/>
<rect x="107.9" y="137.5" width="17.6" height="16.4" fill="url(#g4)"/>
<rect x="125.1" y="163.8" width="18" height="17" fill="url(#g5)"/>
<rect x="154.5" y="169.2" width="17.3" height="16.8" fill="url(#g6)"/>
<rect x="173.6" y="157.3" width="17.3" height="17" fill="url(#g7)"/>
<rect x="183.8" y="137.2" width="17.3" height="16.8" fill="url(#g8)"/>
<rect x="197.2" y="107.1" width="17.7" height="17.1" fill="url(#g9)"/>
<rect x="210.3" y="74.3" width="17.6" height="16.5" fill="url(#g10)"/>
<rect x="221" y="44.5" width="18.3" height="16.6" fill="url(#g11)"/>
<rect x="231.4" y="10.9" width="32.3" height="12.5" rx="0.8" fill="#fff" stroke="#555" stroke-width="0.9"/>
<rect x="239.95" y="15.3" width="4.1" height="4.1" fill="#0a0a0a"/>
<text x="254.2" y="20.05" class="lg" transform="translate(254.2 0) scale(0.93 1) translate(-254.2 0)">4x</text>
<text x="129.9" y="69.1" class="m2" textLength="9.6" lengthAdjust="spacingAndGlyphs">M</text>
<text x="139.2" y="72.1" class="m2 sb">X</text>
<text x="144.6" y="65.9" class="m2 sb">2</text>
<text x="150.6" y="69.1" class="m2" textLength="8" lengthAdjust="spacingAndGlyphs">=</text>
<text x="162.7" y="69.1" class="m2" textLength="16.5" lengthAdjust="spacingAndGlyphs">5.1</text>
</g>
<g>
<path d="M329.22 8.2V187.6M357.05 8.2V187.6M384.88 8.2V187.6M412.71 8.2V187.6M440.53 8.2V187.6M468.37 8.2V187.6M496.19 8.2V187.6M524.02 8.2V187.6M315.3 173.89H538.2M315.3 146.26H538.2M315.3 118.64H538.2M315.3 91.01H538.2M315.3 63.39H538.2M315.3 35.76H538.2" stroke="#dadada" stroke-width="0.7" stroke-dasharray="3 1.2 1 1.2" fill="none"/>
<path d="M315.3 8.2H538.2V187.6" stroke="#747474" stroke-width="1" fill="none"/>
<path d="M315.3 8.2V187.6H538.2M315.3 187.6v2.8M329.22 187.6v1.7M343.13 187.6v2.8M357.05 187.6v1.7M370.96 187.6v2.8M384.88 187.6v1.7M398.79 187.6v2.8M412.71 187.6v1.7M426.62 187.6v2.8M440.53 187.6v1.7M454.45 187.6v2.8M468.37 187.6v1.7M482.28 187.6v2.8M496.19 187.6v1.7M510.11 187.6v2.8M524.02 187.6v1.7M537.94 187.6v2.8M315.3 187.7h-2.8M315.3 173.89h-1.7M315.3 160.07h-2.8M315.3 146.26h-1.7M315.3 132.45h-2.8M315.3 118.64h-1.7M315.3 104.82h-2.8M315.3 91.01h-1.7M315.3 77.2h-2.8M315.3 63.39h-1.7M315.3 49.57h-2.8M315.3 35.76h-1.7M315.3 21.95h-2.8M315.3 8.14h-1.7" stroke="#3a3a3a" stroke-width="1.1" fill="none"/>
<text x="315.3" y="199" text-anchor="middle" class="tk" transform="translate(315.3 0) scale(0.8 1) translate(-315.3 0)">38</text>
<text x="343.13" y="199" text-anchor="middle" class="tk" transform="translate(343.13 0) scale(0.8 1) translate(-343.13 0)">39</text>
<text x="370.96" y="199" text-anchor="middle" class="tk" transform="translate(370.96 0) scale(0.8 1) translate(-370.96 0)">40</text>
<text x="398.79" y="199" text-anchor="middle" class="tk" transform="translate(398.79 0) scale(0.8 1) translate(-398.79 0)">41</text>
<text x="426.62" y="199" text-anchor="middle" class="tk" transform="translate(426.62 0) scale(0.8 1) translate(-426.62 0)">42</text>
<text x="454.45" y="199" text-anchor="middle" class="tk" transform="translate(454.45 0) scale(0.8 1) translate(-454.45 0)">43</text>
<text x="482.28" y="199" text-anchor="middle" class="tk" transform="translate(482.28 0) scale(0.8 1) translate(-482.28 0)">44</text>
<text x="510.11" y="199" text-anchor="middle" class="tk" transform="translate(510.11 0) scale(0.8 1) translate(-510.11 0)">45</text>
<text x="537.94" y="199" text-anchor="middle" class="tk" transform="translate(537.94 0) scale(0.8 1) translate(-537.94 0)">46</text>
<text x="308.8" y="189.9" text-anchor="end" class="tk" transform="translate(308.8 0) scale(0.8 1) translate(-308.8 0)">35</text>
<text x="308.8" y="162.27" text-anchor="end" class="tk" transform="translate(308.8 0) scale(0.8 1) translate(-308.8 0)">40</text>
<text x="308.8" y="134.65" text-anchor="end" class="tk" transform="translate(308.8 0) scale(0.8 1) translate(-308.8 0)">45</text>
<text x="308.8" y="107.02" text-anchor="end" class="tk" transform="translate(308.8 0) scale(0.8 1) translate(-308.8 0)">50</text>
<text x="308.8" y="79.4" text-anchor="end" class="tk" transform="translate(308.8 0) scale(0.8 1) translate(-308.8 0)">55</text>
<text x="308.8" y="51.77" text-anchor="end" class="tk" transform="translate(308.8 0) scale(0.8 1) translate(-308.8 0)">60</text>
<text x="308.8" y="24.15" text-anchor="end" class="tk" transform="translate(308.8 0) scale(0.8 1) translate(-308.8 0)">65</text>
<text x="391.2" y="214.3" textLength="70.4" lengthAdjust="spacingAndGlyphs" class="at">Z Position (mm)</text>
<text x="-57.5" y="0" textLength="115" lengthAdjust="spacingAndGlyphs" class="at" transform="translate(296.7 97.9) rotate(-90)" style="white-space:pre">Vertical  beam width (um)</text>
<text x="278.8" y="14.7" class="pl">b)</text>
<path d="M345.7 26.7V47M343.4 26.7h4.6M343.4 47h4.6M359.7 57.3V73.3M357.4 57.3h4.6M357.4 73.3h4.6M366.6 67.4V85.2M364.3 67.4h4.6M364.3 85.2h4.6M373.7 82.2V110.7M371.4 82.2h4.6M371.4 110.7h4.6M380.9 99.5V115.8M378.6 99.5h4.6M378.6 115.8h4.6M387.7 114.8V141.2M385.4 114.8h4.6M385.4 141.2h4.6M394.6 130V145.8M392.3 130h4.6M392.3 145.8h4.6M401.4 140.7V161.6M399.1 140.7h4.6M399.1 161.6h4.6M408.4 147.1V171.2M406.1 147.1h4.6M406.1 171.2h4.6M415.4 159.8V167.4M413.1 159.8h4.6M413.1 167.4h4.6M422.4 156.5V164.9M420.1 156.5h4.6M420.1 164.9h4.6M429.3 155.5V163.6M427 155.5h4.6M427 163.6h4.6M436.4 138.2V162.3M434.1 138.2h4.6M434.1 162.3h4.6M443.3 130V152.7M441 130h4.6M441 152.7h4.6M450.1 125.4V142M447.8 125.4h4.6M447.8 142h4.6M457 117.3V128M454.7 117.3h4.6M454.7 128h4.6M464.1 111.5V119.1M461.8 111.5h4.6M461.8 119.1h4.6M471.1 91.6V108.5M468.8 91.6h4.6M468.8 108.5h4.6M477.9 76.3V86.5M475.6 76.3h4.6M475.6 86.5h4.6M485.1 42V78.9M482.8 42h4.6M482.8 78.9h4.6M491.9 30.5V42M489.6 30.5h4.6M489.6 42h4.6" stroke="#2c2c2c" stroke-width="0.78" fill="none"/>
<path d="M347 26.1L348.84 31.48L350.67 36.81L352.51 42.09L354.34 47.3L356.18 52.45L358.01 57.54L359.85 62.56L361.68 67.51L363.52 72.39L365.35 77.18L367.19 81.9L369.03 86.53L370.86 91.07L372.7 95.51L374.53 99.86L376.37 104.1L378.2 108.24L380.04 112.26L381.87 116.16L383.71 119.94L385.54 123.59L387.38 127.11L389.22 130.49L391.05 133.72L392.89 136.8L394.72 139.72L396.56 142.48L398.39 145.07L400.23 147.48L402.06 149.72L403.9 151.76L405.73 153.62L407.57 155.29L409.41 156.75L411.24 158.01L413.08 159.06L414.91 159.91L416.75 160.54L418.58 160.96L420.42 161.16L422.25 161.15L424.09 160.93L425.92 160.51L427.76 159.88L429.59 159.05L431.43 158.02L433.27 156.79L435.1 155.37L436.94 153.76L438.77 151.96L440.61 149.98L442.44 147.83L444.28 145.5L446.11 143L447.95 140.34L449.78 137.53L451.62 134.56L453.46 131.45L455.29 128.19L457.13 124.81L458.96 121.29L460.8 117.64L462.63 113.88L464.47 110L466.3 106.01L468.14 101.92L469.97 97.73L471.81 93.43L473.65 89.05L475.48 84.58L477.32 80.03L479.15 75.39L480.99 70.68L482.82 65.9L484.66 61.05L486.49 56.12L488.33 51.14L490.16 46.09L492 40.99" stroke="#f42020" stroke-width="0.92" fill="none"/>
<g fill="#0a0a0a"><rect x="343.6" y="34.8" width="4.2" height="4.2"/><rect x="357.6" y="62.8" width="4.2" height="4.2"/><rect x="364.5" y="73.7" width="4.2" height="4.2"/><rect x="371.6" y="94.6" width="4.2" height="4.2"/><rect x="378.8" y="105.6" width="4.2" height="4.2"/><rect x="385.6" y="125.9" width="4.2" height="4.2"/><rect x="392.5" y="135.6" width="4.2" height="4.2"/><rect x="399.3" y="148.8" width="4.2" height="4.2"/><rect x="406.3" y="156.9" width="4.2" height="4.2"/><rect x="413.3" y="161.1" width="4.2" height="4.2"/><rect x="420.3" y="158.5" width="4.2" height="4.2"/><rect x="427.2" y="158" width="4.2" height="4.2"/><rect x="434.3" y="147.5" width="4.2" height="4.2"/><rect x="441.2" y="139.1" width="4.2" height="4.2"/><rect x="448" y="131" width="4.2" height="4.2"/><rect x="454.9" y="120" width="4.2" height="4.2"/><rect x="462" y="112.7" width="4.2" height="4.2"/><rect x="469" y="98.4" width="4.2" height="4.2"/><rect x="475.8" y="79.3" width="4.2" height="4.2"/><rect x="483" y="58.5" width="4.2" height="4.2"/><rect x="489.8" y="34.3" width="4.2" height="4.2"/></g>
<rect x="334.8" y="47.1" width="17.8" height="16.5" fill="url(#g12)"/>
<rect x="346" y="80.2" width="18.1" height="16.5" fill="url(#g13)"/>
<rect x="359" y="112.2" width="17.8" height="17.1" fill="url(#g14)"/>
<rect x="374.2" y="143.3" width="17.8" height="16.5" fill="url(#g15)"/>
<rect x="417.8" y="168.2" width="17.8" height="17" fill="url(#g16)"/>
<rect x="447.1" y="144.5" width="17.8" height="16.6" fill="url(#g17)"/>
<rect x="467.4" y="115.3" width="17.3" height="16.5" fill="url(#g18)"/>
<rect x="476.7" y="88.3" width="17.3" height="16.6" fill="url(#g19)"/>
<rect x="488.9" y="55.2" width="17.8" height="16.8" fill="url(#g20)"/>
<rect x="501.1" y="10.7" width="33.1" height="11.7" rx="0.8" fill="#fff" stroke="#555" stroke-width="0.9"/>
<rect x="509.65" y="14.7" width="4.1" height="4.1" fill="#0a0a0a"/>
<text x="523.9" y="19.45" class="lg" transform="translate(523.9 0) scale(0.93 1) translate(-523.9 0)">4x</text>
<text x="400.5" y="65.4" class="m2" textLength="9.6" lengthAdjust="spacingAndGlyphs">M</text>
<text x="409.8" y="68.4" class="m2 sb">Y</text>
<text x="415.2" y="62.2" class="m2 sb">2</text>
<text x="421.2" y="65.4" class="m2" textLength="8" lengthAdjust="spacingAndGlyphs">=</text>
<text x="432.7" y="65.4" class="m2" textLength="18.8" lengthAdjust="spacingAndGlyphs">3.7</text>
</g>
<g>
<path d="M68.01 230.1V409M102.23 230.1V409M136.45 230.1V409M170.67 230.1V409M204.89 230.1V409M239.11 230.1V409M50.9 389.09H273.4M50.9 364.66H273.4M50.9 340.24H273.4M50.9 315.81H273.4M50.9 291.39H273.4M50.9 266.96H273.4M50.9 242.54H273.4" stroke="#dadada" stroke-width="0.7" stroke-dasharray="3 1.2 1 1.2" fill="none"/>
<path d="M50.9 230.1H273.4V409" stroke="#747474" stroke-width="1" fill="none"/>
<path d="M50.9 230.1V409H273.4M50.9 409v2.8M68.01 409v1.7M85.12 409v2.8M102.23 409v1.7M119.34 409v2.8M136.45 409v1.7M153.56 409v2.8M170.67 409v1.7M187.78 409v2.8M204.89 409v1.7M222 409v2.8M239.11 409v1.7M256.22 409v2.8M50.9 401.3h-2.8M50.9 389.09h-1.7M50.9 376.88h-2.8M50.9 364.66h-1.7M50.9 352.45h-2.8M50.9 340.24h-1.7M50.9 328.03h-2.8M50.9 315.81h-1.7M50.9 303.6h-2.8M50.9 291.39h-1.7M50.9 279.18h-2.8M50.9 266.96h-1.7M50.9 254.75h-2.8M50.9 242.54h-1.7M50.9 230.33h-2.8" stroke="#3a3a3a" stroke-width="1.1" fill="none"/>
<text x="50.9" y="420.4" text-anchor="middle" class="tk" transform="translate(50.9 0) scale(0.8 1) translate(-50.9 0)">40</text>
<text x="85.12" y="420.4" text-anchor="middle" class="tk" transform="translate(85.12 0) scale(0.8 1) translate(-85.12 0)">41</text>
<text x="119.34" y="420.4" text-anchor="middle" class="tk" transform="translate(119.34 0) scale(0.8 1) translate(-119.34 0)">42</text>
<text x="153.56" y="420.4" text-anchor="middle" class="tk" transform="translate(153.56 0) scale(0.8 1) translate(-153.56 0)">43</text>
<text x="187.78" y="420.4" text-anchor="middle" class="tk" transform="translate(187.78 0) scale(0.8 1) translate(-187.78 0)">44</text>
<text x="222" y="420.4" text-anchor="middle" class="tk" transform="translate(222 0) scale(0.8 1) translate(-222 0)">45</text>
<text x="256.22" y="420.4" text-anchor="middle" class="tk" transform="translate(256.22 0) scale(0.8 1) translate(-256.22 0)">46</text>
<text x="44.4" y="403.5" text-anchor="end" class="tk" transform="translate(44.4 0) scale(0.8 1) translate(-44.4 0)">40</text>
<text x="44.4" y="379.07" text-anchor="end" class="tk" transform="translate(44.4 0) scale(0.8 1) translate(-44.4 0)">45</text>
<text x="44.4" y="354.65" text-anchor="end" class="tk" transform="translate(44.4 0) scale(0.8 1) translate(-44.4 0)">50</text>
<text x="44.4" y="330.23" text-anchor="end" class="tk" transform="translate(44.4 0) scale(0.8 1) translate(-44.4 0)">55</text>
<text x="44.4" y="305.8" text-anchor="end" class="tk" transform="translate(44.4 0) scale(0.8 1) translate(-44.4 0)">60</text>
<text x="44.4" y="281.38" text-anchor="end" class="tk" transform="translate(44.4 0) scale(0.8 1) translate(-44.4 0)">65</text>
<text x="44.4" y="256.95" text-anchor="end" class="tk" transform="translate(44.4 0) scale(0.8 1) translate(-44.4 0)">70</text>
<text x="44.4" y="232.53" text-anchor="end" class="tk" transform="translate(44.4 0) scale(0.8 1) translate(-44.4 0)">75</text>
<text x="126.9" y="436" textLength="70.4" lengthAdjust="spacingAndGlyphs" class="at">Z Position (mm)</text>
<text x="-60.5" y="0" textLength="121" lengthAdjust="spacingAndGlyphs" class="at" transform="translate(32.4 319.3) rotate(-90)" style="white-space:pre">Horizontal beam width (um)</text>
<text x="10.7" y="226.9" class="pl">c)</text>
<path d="M83.5 254.9V291.3M81.2 254.9h4.6M81.2 291.3h4.6M91.9 276V302.5M89.6 276h4.6M89.6 302.5h4.6M100.3 291.8V312.5M98 291.8h4.6M98 312.5h4.6M108.8 311.7V325M106.5 311.7h4.6M106.5 325h4.6M117.6 323V341.6M115.3 323h4.6M115.3 341.6h4.6M126 330.2V366.6M123.7 330.2h4.6M123.7 366.6h4.6M134.8 350V368.9M132.5 350h4.6M132.5 368.9h4.6M143.4 354.4V377.3M141.1 354.4h4.6M141.1 377.3h4.6M151.8 356.1V388.2M149.5 356.1h4.6M149.5 388.2h4.6M160.5 354.4V377.3M158.2 354.4h4.6M158.2 377.3h4.6M169.1 340.9V378.5M166.8 340.9h4.6M166.8 378.5h4.6M177.8 339.1V365.3M175.5 339.1h4.6M175.5 365.3h4.6M186.2 318V365.8M183.9 318h4.6M183.9 365.8h4.6M194.5 301.5V356.1M192.2 301.5h4.6M192.2 356.1h4.6M202.9 303.5V327M200.6 303.5h4.6M200.6 327h4.6M220.2 281.2V293.4M217.9 281.2h4.6M217.9 293.4h4.6M237.5 250.1V270.5M235.2 250.1h4.6M235.2 270.5h4.6" stroke="#2c2c2c" stroke-width="0.78" fill="none"/>
<path d="M83.8 272.96L85.75 277.4L87.69 281.77L89.64 286.08L91.58 290.31L93.53 294.46L95.47 298.54L97.42 302.54L99.36 306.44L101.31 310.26L103.26 313.99L105.2 317.62L107.15 321.15L109.09 324.58L111.04 327.89L112.98 331.1L114.93 334.19L116.87 337.16L118.82 340L120.77 342.71L122.71 345.29L124.66 347.74L126.6 350.04L128.55 352.2L130.49 354.21L132.44 356.06L134.38 357.76L136.33 359.3L138.28 360.67L140.22 361.88L142.17 362.93L144.11 363.8L146.06 364.49L148 365.02L149.95 365.37L151.89 365.54L153.84 365.54L155.79 365.39L157.73 365.08L159.68 364.62L161.62 364.02L163.57 363.27L165.51 362.37L167.46 361.32L169.41 360.14L171.35 358.81L173.3 357.34L175.24 355.74L177.19 354L179.13 352.14L181.08 350.14L183.02 348.02L184.97 345.78L186.92 343.43L188.86 340.95L190.81 338.37L192.75 335.68L194.7 332.88L196.64 329.98L198.59 326.98L200.53 323.89L202.48 320.7L204.43 317.43L206.37 314.07L208.32 310.63L210.26 307.11L212.21 303.51L214.15 299.84L216.1 296.1L218.04 292.28L219.99 288.41L221.94 284.46L223.88 280.46L225.83 276.4L227.77 272.28L229.72 268.11L231.66 263.88L233.61 259.6L235.55 255.28L237.5 250.9" stroke="#f42020" stroke-width="0.92" fill="none"/>
<g fill="#0a0a0a"><polygon points="83.5,271.05 86.02,272.88 85.06,275.84 81.94,275.84 80.98,272.88" stroke="#0a0a0a" stroke-width="0.5" stroke-linejoin="round"/><polygon points="91.9,286.85 94.42,288.68 93.46,291.64 90.34,291.64 89.38,288.68" stroke="#0a0a0a" stroke-width="0.5" stroke-linejoin="round"/><polygon points="100.3,299.85 102.82,301.68 101.86,304.64 98.74,304.64 97.78,301.68" stroke="#0a0a0a" stroke-width="0.5" stroke-linejoin="round"/><polygon points="108.8,316.05 111.32,317.88 110.36,320.84 107.24,320.84 106.28,317.88" stroke="#0a0a0a" stroke-width="0.5" stroke-linejoin="round"/><polygon points="117.6,329.75 120.12,331.58 119.16,334.54 116.04,334.54 115.08,331.58" stroke="#0a0a0a" stroke-width="0.5" stroke-linejoin="round"/><polygon points="126,346.15 128.52,347.98 127.56,350.94 124.44,350.94 123.48,347.98" stroke="#0a0a0a" stroke-width="0.5" stroke-linejoin="round"/><polygon points="134.8,356.95 137.32,358.78 136.36,361.74 133.24,361.74 132.28,358.78" stroke="#0a0a0a" stroke-width="0.5" stroke-linejoin="round"/><polygon points="143.4,363.35 145.92,365.18 144.96,368.14 141.84,368.14 140.88,365.18" stroke="#0a0a0a" stroke-width="0.5" stroke-linejoin="round"/><polygon points="151.8,369.75 154.32,371.58 153.36,374.54 150.24,374.54 149.28,371.58" stroke="#0a0a0a" stroke-width="0.5" stroke-linejoin="round"/><polygon points="160.5,363.35 163.02,365.18 162.06,368.14 158.94,368.14 157.98,365.18" stroke="#0a0a0a" stroke-width="0.5" stroke-linejoin="round"/><polygon points="169.1,356.95 171.62,358.78 170.66,361.74 167.54,361.74 166.58,358.78" stroke="#0a0a0a" stroke-width="0.5" stroke-linejoin="round"/><polygon points="177.8,349.65 180.32,351.48 179.36,354.44 176.24,354.44 175.28,351.48" stroke="#0a0a0a" stroke-width="0.5" stroke-linejoin="round"/><polygon points="186.2,339.65 188.72,341.48 187.76,344.44 184.64,344.44 183.68,341.48" stroke="#0a0a0a" stroke-width="0.5" stroke-linejoin="round"/><polygon points="194.5,325.35 197.02,327.18 196.06,330.14 192.94,330.14 191.98,327.18" stroke="#0a0a0a" stroke-width="0.5" stroke-linejoin="round"/><polygon points="202.9,312.25 205.42,314.08 204.46,317.04 201.34,317.04 200.38,314.08" stroke="#0a0a0a" stroke-width="0.5" stroke-linejoin="round"/><polygon points="220.2,285.05 222.72,286.88 221.76,289.84 218.64,289.84 217.68,286.88" stroke="#0a0a0a" stroke-width="0.5" stroke-linejoin="round"/><polygon points="237.5,258.35 240.02,260.18 239.06,263.14 235.94,263.14 234.98,260.18" stroke="#0a0a0a" stroke-width="0.5" stroke-linejoin="round"/></g>
<rect x="62.8" y="269.2" width="17.9" height="16.5" fill="url(#g21)"/>
<rect x="76.3" y="299" width="17.8" height="16" fill="url(#g22)"/>
<rect x="92.4" y="324.3" width="17.7" height="16.8" fill="url(#g23)"/>
<rect x="106.9" y="353.8" width="17.8" height="16.6" fill="url(#g24)"/>
<rect x="124.9" y="375.7" width="17.5" height="16.5" fill="url(#g25)"/>
<rect x="146.7" y="388.2" width="17.8" height="16.5" fill="url(#g26)"/>
<rect x="166.6" y="378.5" width="17.5" height="16.6" fill="url(#g27)"/>
<rect x="188.2" y="358.9" width="17.8" height="16.6" fill="url(#g28)"/>
<rect x="198.9" y="334" width="17.8" height="16.5" fill="url(#g29)"/>
<rect x="215.2" y="304" width="17.8" height="16.7" fill="url(#g30)"/>
<rect x="227.1" y="277.3" width="17.3" height="17.1" fill="url(#g31)"/>
<rect x="222.8" y="230.2" width="32.8" height="11.4" rx="0.8" fill="#fff" stroke="#555" stroke-width="0.9"/>
<circle cx="233.4" cy="236.1" r="2.3" fill="#0a0a0a"/>
<text x="245.6" y="238.8" class="lg" transform="translate(245.6 0) scale(0.93 1) translate(-245.6 0)">8x</text>
<text x="128.9" y="291" class="m2" textLength="9.6" lengthAdjust="spacingAndGlyphs">M</text>
<text x="138.2" y="294" class="m2 sb">X</text>
<text x="143.6" y="287.8" class="m2 sb">2</text>
<text x="149.6" y="291" class="m2" textLength="8" lengthAdjust="spacingAndGlyphs">=</text>
<text x="161.4" y="291" class="m2" textLength="17.8" lengthAdjust="spacingAndGlyphs">5.2</text>
</g>
<g>
<path d="M348.35 229.7V409.5M378.05 229.7V409.5M407.75 229.7V409.5M437.45 229.7V409.5M467.15 229.7V409.5M496.85 229.7V409.5M526.55 229.7V409.5M318.6 379.35H541.9M318.6 349.45H541.9M318.6 319.55H541.9M318.6 289.65H541.9M318.6 259.75H541.9" stroke="#dadada" stroke-width="0.7" stroke-dasharray="3 1.2 1 1.2" fill="none"/>
<path d="M318.6 229.7H541.9V409.5" stroke="#747474" stroke-width="1" fill="none"/>
<path d="M318.6 229.7V409.5H541.9M333.5 409.5v2.8M348.35 409.5v1.7M363.2 409.5v2.8M378.05 409.5v1.7M392.9 409.5v2.8M407.75 409.5v1.7M422.6 409.5v2.8M437.45 409.5v1.7M452.3 409.5v2.8M467.15 409.5v1.7M482 409.5v2.8M496.85 409.5v1.7M511.7 409.5v2.8M526.55 409.5v1.7M541.4 409.5v2.8M318.6 409.25h-1.7M318.6 394.3h-2.8M318.6 379.35h-1.7M318.6 364.4h-2.8M318.6 349.45h-1.7M318.6 334.5h-2.8M318.6 319.55h-1.7M318.6 304.6h-2.8M318.6 289.65h-1.7M318.6 274.7h-2.8M318.6 259.75h-1.7M318.6 244.8h-2.8M318.6 229.85h-1.7" stroke="#3a3a3a" stroke-width="1.1" fill="none"/>
<text x="333.5" y="420.9" text-anchor="middle" class="tk" transform="translate(333.5 0) scale(0.8 1) translate(-333.5 0)">40</text>
<text x="363.2" y="420.9" text-anchor="middle" class="tk" transform="translate(363.2 0) scale(0.8 1) translate(-363.2 0)">41</text>
<text x="392.9" y="420.9" text-anchor="middle" class="tk" transform="translate(392.9 0) scale(0.8 1) translate(-392.9 0)">42</text>
<text x="422.6" y="420.9" text-anchor="middle" class="tk" transform="translate(422.6 0) scale(0.8 1) translate(-422.6 0)">43</text>
<text x="452.3" y="420.9" text-anchor="middle" class="tk" transform="translate(452.3 0) scale(0.8 1) translate(-452.3 0)">44</text>
<text x="482" y="420.9" text-anchor="middle" class="tk" transform="translate(482 0) scale(0.8 1) translate(-482 0)">45</text>
<text x="511.7" y="420.9" text-anchor="middle" class="tk" transform="translate(511.7 0) scale(0.8 1) translate(-511.7 0)">46</text>
<text x="541.4" y="420.9" text-anchor="middle" class="tk" transform="translate(541.4 0) scale(0.8 1) translate(-541.4 0)">47</text>
<text x="312.1" y="396.5" text-anchor="end" class="tk" transform="translate(312.1 0) scale(0.8 1) translate(-312.1 0)">40</text>
<text x="312.1" y="366.6" text-anchor="end" class="tk" transform="translate(312.1 0) scale(0.8 1) translate(-312.1 0)">50</text>
<text x="312.1" y="336.7" text-anchor="end" class="tk" transform="translate(312.1 0) scale(0.8 1) translate(-312.1 0)">60</text>
<text x="312.1" y="306.8" text-anchor="end" class="tk" transform="translate(312.1 0) scale(0.8 1) translate(-312.1 0)">70</text>
<text x="312.1" y="276.9" text-anchor="end" class="tk" transform="translate(312.1 0) scale(0.8 1) translate(-312.1 0)">80</text>
<text x="312.1" y="247" text-anchor="end" class="tk" transform="translate(312.1 0) scale(0.8 1) translate(-312.1 0)">90</text>
<text x="395" y="436" textLength="70.4" lengthAdjust="spacingAndGlyphs" class="at">Z Position (mm)</text>
<text x="-55.5" y="0" textLength="111" lengthAdjust="spacingAndGlyphs" class="at" transform="translate(299 319.2) rotate(-90)" style="white-space:pre">Vertical beam width (um)</text>
<text x="285" y="224.5" class="pl">d)</text>
<path d="M347 256.2V282.4M344.7 256.2h4.6M344.7 282.4h4.6M361.8 282V311M359.5 282h4.6M359.5 311h4.6M369.4 295.1V314M367.1 295.1h4.6M367.1 314h4.6M376.9 312.5V317.8M374.6 312.5h4.6M374.6 317.8h4.6M384.4 322V328.7M382.1 322h4.6M382.1 328.7h4.6M391.8 335.3V350M389.5 335.3h4.6M389.5 350h4.6M399.1 344.2V368.3M396.8 344.2h4.6M396.8 368.3h4.6M406.5 357.7V373.4M404.2 357.7h4.6M404.2 373.4h4.6M414 374V384.9M411.7 374h4.6M411.7 384.9h4.6M421.6 372.7V388.2M419.3 372.7h4.6M419.3 388.2h4.6M429 376.5V385.6M426.7 376.5h4.6M426.7 385.6h4.6M436.4 372.7V389.2M434.1 372.7h4.6M434.1 389.2h4.6M443.8 379V383.6M441.5 379h4.6M441.5 383.6h4.6M451.1 359.4V376.5M448.8 359.4h4.6M448.8 376.5h4.6M458.5 343.7V376.5M456.2 343.7h4.6M456.2 376.5h4.6M466.1 339.1V356.1M463.8 339.1h4.6M463.8 356.1h4.6M480.9 315.5V334.8M478.6 315.5h4.6M478.6 334.8h4.6M496 280.6V316.3M493.7 280.6h4.6M493.7 316.3h4.6M510.8 253.7V299M508.5 253.7h4.6M508.5 299h4.6" stroke="#2c2c2c" stroke-width="0.78" fill="none"/>
<path d="M347 251.88L349.07 256.76L351.15 261.62L353.22 266.44L355.29 271.22L357.37 275.96L359.44 280.66L361.51 285.32L363.59 289.92L365.66 294.48L367.73 298.99L369.81 303.44L371.88 307.83L373.95 312.16L376.03 316.41L378.1 320.6L380.17 324.71L382.25 328.73L384.32 332.67L386.39 336.51L388.47 340.25L390.54 343.89L392.62 347.41L394.69 350.81L396.76 354.08L398.84 357.22L400.91 360.2L402.98 363.04L405.06 365.71L407.13 368.21L409.2 370.53L411.28 372.65L413.35 374.58L415.42 376.31L417.5 377.81L419.57 379.1L421.64 380.16L423.72 380.98L425.79 381.56L427.86 381.91L429.94 382.01L432.01 381.88L434.08 381.54L436.16 380.99L438.23 380.22L440.3 379.26L442.38 378.08L444.45 376.72L446.52 375.16L448.6 373.41L450.67 371.49L452.74 369.4L454.82 367.15L456.89 364.73L458.96 362.18L461.04 359.47L463.11 356.64L465.18 353.68L467.26 350.6L469.33 347.4L471.41 344.1L473.48 340.7L475.55 337.2L477.63 333.62L479.7 329.95L481.77 326.2L483.85 322.37L485.92 318.48L487.99 314.52L490.07 310.49L492.14 306.41L494.21 302.28L496.29 298.09L498.36 293.85L500.43 289.57L502.51 285.24L504.58 280.87L506.65 276.46L508.73 272.02L510.8 267.54" stroke="#f42020" stroke-width="0.92" fill="none"/>
<g fill="#0a0a0a"><polygon points="347,266.75 349.52,268.58 348.56,271.54 345.44,271.54 344.48,268.58" stroke="#0a0a0a" stroke-width="0.5" stroke-linejoin="round"/><polygon points="361.8,294.05 364.32,295.88 363.36,298.84 360.24,298.84 359.28,295.88" stroke="#0a0a0a" stroke-width="0.5" stroke-linejoin="round"/><polygon points="369.4,302.05 371.92,303.88 370.96,306.84 367.84,306.84 366.88,303.88" stroke="#0a0a0a" stroke-width="0.5" stroke-linejoin="round"/><polygon points="376.9,312.75 379.42,314.58 378.46,317.54 375.34,317.54 374.38,314.58" stroke="#0a0a0a" stroke-width="0.5" stroke-linejoin="round"/><polygon points="384.4,322.85 386.92,324.68 385.96,327.64 382.84,327.64 381.88,324.68" stroke="#0a0a0a" stroke-width="0.5" stroke-linejoin="round"/><polygon points="391.8,339.95 394.32,341.78 393.36,344.74 390.24,344.74 389.28,341.78" stroke="#0a0a0a" stroke-width="0.5" stroke-linejoin="round"/><polygon points="399.1,354.25 401.62,356.08 400.66,359.04 397.54,359.04 396.58,356.08" stroke="#0a0a0a" stroke-width="0.5" stroke-linejoin="round"/><polygon points="406.5,363.15 409.02,364.98 408.06,367.94 404.94,367.94 403.98,364.98" stroke="#0a0a0a" stroke-width="0.5" stroke-linejoin="round"/><polygon points="414,376.35 416.52,378.18 415.56,381.14 412.44,381.14 411.48,378.18" stroke="#0a0a0a" stroke-width="0.5" stroke-linejoin="round"/><polygon points="421.6,378.15 424.12,379.98 423.16,382.94 420.04,382.94 419.08,379.98" stroke="#0a0a0a" stroke-width="0.5" stroke-linejoin="round"/><polygon points="429,378.65 431.52,380.48 430.56,383.44 427.44,383.44 426.48,380.48" stroke="#0a0a0a" stroke-width="0.5" stroke-linejoin="round"/><polygon points="436.4,378.65 438.92,380.48 437.96,383.44 434.84,383.44 433.88,380.48" stroke="#0a0a0a" stroke-width="0.5" stroke-linejoin="round"/><polygon points="443.8,379.15 446.32,380.98 445.36,383.94 442.24,383.94 441.28,380.98" stroke="#0a0a0a" stroke-width="0.5" stroke-linejoin="round"/><polygon points="451.1,365.25 453.62,367.08 452.66,370.04 449.54,370.04 448.58,367.08" stroke="#0a0a0a" stroke-width="0.5" stroke-linejoin="round"/><polygon points="458.5,357.55 461.02,359.38 460.06,362.34 456.94,362.34 455.98,359.38" stroke="#0a0a0a" stroke-width="0.5" stroke-linejoin="round"/><polygon points="466.1,345.35 468.62,347.18 467.66,350.14 464.54,350.14 463.58,347.18" stroke="#0a0a0a" stroke-width="0.5" stroke-linejoin="round"/><polygon points="480.9,322.65 483.42,324.48 482.46,327.44 479.34,327.44 478.38,324.48" stroke="#0a0a0a" stroke-width="0.5" stroke-linejoin="round"/><polygon points="496,296.05 498.52,297.88 497.56,300.84 494.44,300.84 493.48,297.88" stroke="#0a0a0a" stroke-width="0.5" stroke-linejoin="round"/><polygon points="510.8,274.15 513.32,275.98 512.36,278.94 509.24,278.94 508.28,275.98" stroke="#0a0a0a" stroke-width="0.5" stroke-linejoin="round"/></g>
<rect x="326.4" y="264.1" width="17.8" height="16.5" fill="url(#g32)"/>
<rect x="345.7" y="302.8" width="17.8" height="16.5" fill="url(#g33)"/>
<rect x="367.9" y="326.4" width="17.3" height="16.5" fill="url(#g34)"/>
<rect x="379.3" y="351.8" width="17.3" height="16.5" fill="url(#g35)"/>
<rect x="392.8" y="378" width="17.5" height="16.6" fill="url(#g36)"/>
<rect x="424.2" y="390.5" width="17.8" height="16.5" fill="url(#g37)"/>
<rect x="450.1" y="378.5" width="17.3" height="16.6" fill="url(#g38)"/>
<rect x="464.4" y="355.6" width="18.3" height="17.1" fill="url(#g39)"/>
<rect x="484.5" y="326.4" width="17.8" height="16.5" fill="url(#g40)"/>
<rect x="500.2" y="303.3" width="17.1" height="16.6" fill="url(#g41)"/>
<rect x="514.8" y="269.7" width="17.3" height="16.5" fill="url(#g42)"/>
<rect x="489.4" y="233.4" width="32.8" height="11.7" rx="0.8" fill="#fff" stroke="#555" stroke-width="0.9"/>
<circle cx="500" cy="239.45" r="2.3" fill="#0a0a0a"/>
<text x="512.2" y="242.15" class="lg" transform="translate(512.2 0) scale(0.93 1) translate(-512.2 0)">8x</text>
<text x="404.9" y="287.7" class="m2" textLength="9.6" lengthAdjust="spacingAndGlyphs">M</text>
<text x="414.2" y="290.7" class="m2 sb">Y</text>
<text x="419.6" y="284.5" class="m2 sb">2</text>
<text x="425.6" y="287.7" class="m2" textLength="8" lengthAdjust="spacingAndGlyphs">=</text>
<text x="436.4" y="287.7" class="m2" textLength="19.6" lengthAdjust="spacingAndGlyphs">5.8</text>
</g>
</svg>
</body></html>
